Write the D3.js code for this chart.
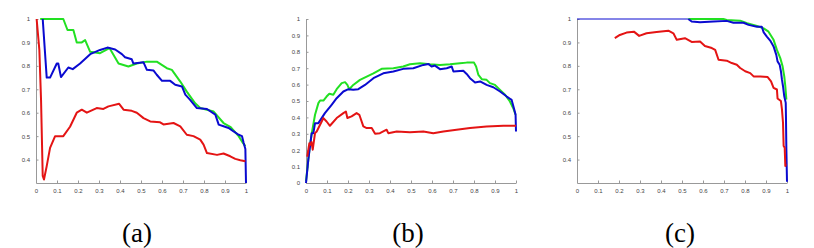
<!DOCTYPE html>
<html>
<head>
<meta charset="utf-8">
<script src="https://cdn.jsdelivr.net/npm/d3@7"></script>
<style>
  body { margin: 0; background: #fff; }
  .tick text { font-family: "Liberation Sans", sans-serif; font-size: 6px; fill: #444; }
  .tick line, .domain { stroke: #999; }
</style>
</head>
<body>
<svg id="chart" width="814" height="248"></svg>
<script>
// x ticks shared by all panels
const xTicks = [0, 0.1, 0.2, 0.3, 0.4, 0.5, 0.6, 0.7, 0.8, 0.9, 1];
const yTicksA = [0.4, 0.5, 0.6, 0.7, 0.8, 0.9, 1];
const yTicksB = [0, 0.1, 0.2, 0.3, 0.4, 0.5, 0.6, 0.7, 0.8, 0.9, 1];
const yTicksC = [0.4, 0.5, 0.6, 0.7, 0.8, 0.9, 1];
const captions = ["(a)", "(b)", "(c)"];

// panel (a)
const aGreen = [[0.02,1],[0.13,1],[0.15,0.953],[0.178,0.953],[0.194,0.9],[0.218,0.9],[0.234,0.91],[0.258,0.86],[0.305,0.854],[0.35,0.876],
  [0.393,0.81],[0.44,0.797],[0.48,0.81],[0.528,0.818],[0.575,0.818],[0.623,0.79],[0.647,0.783],[0.687,0.733],[0.718,0.69],[0.758,0.64],
  [0.782,0.62],[0.846,0.605],[0.893,0.556],[0.925,0.54],[0.965,0.5],[0.986,0.47],[0.997,0.457]];
const aBlue = [[0.032,1],[0.051,0.75],[0.067,0.75],[0.099,0.81],[0.106,0.81],[0.119,0.752],[0.154,0.793],[0.175,0.786],[0.21,0.81],
  [0.258,0.85],[0.305,0.868],[0.34,0.878],[0.377,0.87],[0.409,0.85],[0.424,0.837],[0.456,0.828],[0.464,0.81],[0.512,0.815],[0.528,0.783],
  [0.56,0.78],[0.575,0.762],[0.6,0.736],[0.639,0.736],[0.663,0.719],[0.695,0.712],[0.711,0.677],[0.734,0.655],[0.766,0.62],[0.814,0.616],
  [0.854,0.592],[0.87,0.549],[0.893,0.542],[0.917,0.535],[0.941,0.52],[0.965,0.506],[0.981,0.5],[0.989,0.471],[0.997,0.445],[1,0.3]];
const aRed = [[0.003,1],[0.016,0.868],[0.024,0.655],[0.032,0.33],[0.038,0.315],[0.051,0.372],[0.067,0.45],[0.091,0.5],[0.13,0.5],
  [0.162,0.54],[0.194,0.6],[0.218,0.613],[0.242,0.6],[0.289,0.62],[0.321,0.616],[0.345,0.627],[0.396,0.638],[0.417,0.613],[0.456,0.608],
  [0.48,0.6],[0.512,0.577],[0.544,0.563],[0.591,0.559],[0.607,0.55],[0.655,0.556],[0.687,0.542],[0.718,0.506],[0.75,0.5],[0.782,0.485],
  [0.798,0.464],[0.814,0.428],[0.862,0.42],[0.893,0.426],[0.925,0.414],[0.949,0.403],[0.973,0.397],[0.997,0.393]];

// panel (b)
const bGreen = [[0,0.01],[0.016,0.2],[0.027,0.3],[0.043,0.416],[0.059,0.487],[0.067,0.503],[0.083,0.503],[0.098,0.527],[0.111,0.544],
  [0.13,0.538],[0.146,0.572],[0.17,0.609],[0.186,0.615],[0.197,0.598],[0.206,0.572],[0.225,0.598],[0.257,0.629],[0.289,0.649],
  [0.321,0.669],[0.36,0.696],[0.416,0.7],[0.463,0.71],[0.495,0.724],[0.543,0.73],[0.59,0.724],[0.638,0.72],[0.686,0.724],[0.733,0.73],
  [0.765,0.734],[0.8,0.734],[0.81,0.71],[0.821,0.659],[0.837,0.633],[0.86,0.629],[0.876,0.609],[0.9,0.598],[0.924,0.568],[0.948,0.538],
  [0.971,0.497],[0.987,0.456],[0.998,0.416]];
const bBlue = [[0,0],[0.011,0.142],[0.027,0.304],[0.035,0.304],[0.043,0.365],[0.059,0.365],[0.09,0.426],[0.122,0.477],[0.146,0.517],
  [0.178,0.558],[0.202,0.572],[0.225,0.568],[0.249,0.572],[0.281,0.598],[0.321,0.639],[0.368,0.669],[0.416,0.68],[0.463,0.696],
  [0.511,0.7],[0.559,0.72],[0.583,0.726],[0.598,0.71],[0.614,0.716],[0.638,0.694],[0.67,0.7],[0.694,0.71],[0.702,0.68],[0.749,0.684],
  [0.765,0.665],[0.781,0.639],[0.805,0.613],[0.829,0.619],[0.86,0.598],[0.892,0.584],[0.924,0.558],[0.956,0.527],[0.979,0.507],
  [0.992,0.446],[0.998,0.416],[1,0.314]];
const bRed = [[0.006,0.16],[0.016,0.243],[0.022,0.233],[0.026,0.25],[0.032,0.203],[0.043,0.304],[0.051,0.314],[0.083,0.396],
  [0.098,0.375],[0.114,0.349],[0.146,0.396],[0.178,0.426],[0.19,0.436],[0.197,0.396],[0.217,0.406],[0.241,0.426],[0.254,0.416],
  [0.273,0.345],[0.289,0.335],[0.313,0.335],[0.329,0.3],[0.352,0.304],[0.384,0.325],[0.392,0.304],[0.432,0.314],[0.495,0.31],
  [0.559,0.314],[0.606,0.304],[0.654,0.314],[0.717,0.325],[0.781,0.335],[0.86,0.345],[0.94,0.349],[1,0.349]];

// panel (c)
const cGreen = [[0.53,1],[0.697,1],[0.713,0.996],[0.777,0.993],[0.81,0.982],[0.857,0.97],[0.889,0.96],[0.912,0.946],[0.936,0.911],
  [0.952,0.868],[0.968,0.833],[0.979,0.798],[0.987,0.755],[0.992,0.713],[0.997,0.656]];
const cBlueFlat = [[0,1],[0.53,1]];
const cBlue = [[0.53,1],[0.546,0.989],[0.586,0.986],[0.65,0.989],[0.713,0.992],[0.745,0.984],[0.793,0.984],[0.817,0.975],[0.857,0.967],
  [0.88,0.967],[0.889,0.943],[0.904,0.925],[0.92,0.908],[0.936,0.883],[0.949,0.847],[0.955,0.819],[0.965,0.805],[0.971,0.777],
  [0.976,0.741],[0.981,0.713],[0.987,0.67],[0.994,0.642],[0.995,0.586],[0.997,0.444],[1,0.305]];
const cRed = [[0.18,0.918],[0.204,0.932],[0.236,0.942],[0.271,0.946],[0.296,0.928],[0.331,0.939],[0.379,0.945],[0.435,0.95],
  [0.459,0.939],[0.475,0.911],[0.514,0.918],[0.546,0.902],[0.586,0.904],[0.609,0.885],[0.642,0.876],[0.658,0.868],[0.674,0.826],
  [0.713,0.822],[0.737,0.812],[0.761,0.805],[0.777,0.791],[0.801,0.777],[0.825,0.769],[0.841,0.755],[0.873,0.755],[0.908,0.752],
  [0.924,0.734],[0.936,0.706],[0.952,0.699],[0.955,0.661],[0.971,0.65],[0.976,0.614],[0.981,0.557],[0.984,0.458],[0.989,0.451],
  [0.992,0.373],[0.995,0.38]];

const GREEN = "#22e022", BLUE = "#0a0ad0", RED = "#e41414";

const svg = d3.select("#chart");

const panels = [
  { left: 36, right: 246, yMin: 0.3, yTicks: yTicksA, cap: 137,
    lines: [[aGreen, GREEN, 2], [aBlue, BLUE, 2], [aRed, RED, 2]] },
  { left: 306, right: 516, yMin: 0, yTicks: yTicksB, cap: 408,
    lines: [[bGreen, GREEN, 2], [bBlue, BLUE, 2], [bRed, RED, 2]] },
  { left: 577, right: 787, yMin: 0.3, yTicks: yTicksC, cap: 680,
    lines: [[cBlueFlat, BLUE, 1], [cGreen, GREEN, 2], [cBlue, BLUE, 2], [cRed, RED, 2]] }
];

const plotTop = 19, plotBottom = 183;

panels.forEach((p, i) => {
  const x = d3.scaleLinear().domain([0, 1]).range([p.left, p.right]);
  const y = d3.scaleLinear().domain([p.yMin, 1]).range([plotBottom, plotTop]);

  svg.append("g")
    .attr("transform", `translate(0,${plotBottom})`)
    .call(d3.axisBottom(x).tickValues(xTicks).tickFormat(d3.format("~g"))
      .tickSizeInner(-2.5).tickSizeOuter(0).tickPadding(6));

  svg.append("g")
    .attr("transform", `translate(${p.left},0)`)
    .call(d3.axisLeft(y).tickValues(p.yTicks).tickFormat(d3.format("~g"))
      .tickSizeInner(-2.5).tickSizeOuter(0).tickPadding(6));

  const line = d3.line().x(d => x(d[0])).y(d => y(d[1]));

  p.lines.forEach(([data, color, w]) => {
    svg.append("path")
      .datum(data)
      .attr("d", line)
      .attr("fill", "none")
      .attr("stroke", color)
      .attr("stroke-width", w)
      .attr("stroke-linejoin", "round");
  });

  // caption sits low, near the bottom edge
  svg.append("text")
    .text(captions[i])
    .attr("x", p.cap)
    .attr("y", 242)
    .style("font-family", "Liberation Serif, serif")
    .style("font-size", "27px")
    .style("text-anchor", "middle");
});
</script>
</body>
</html>
